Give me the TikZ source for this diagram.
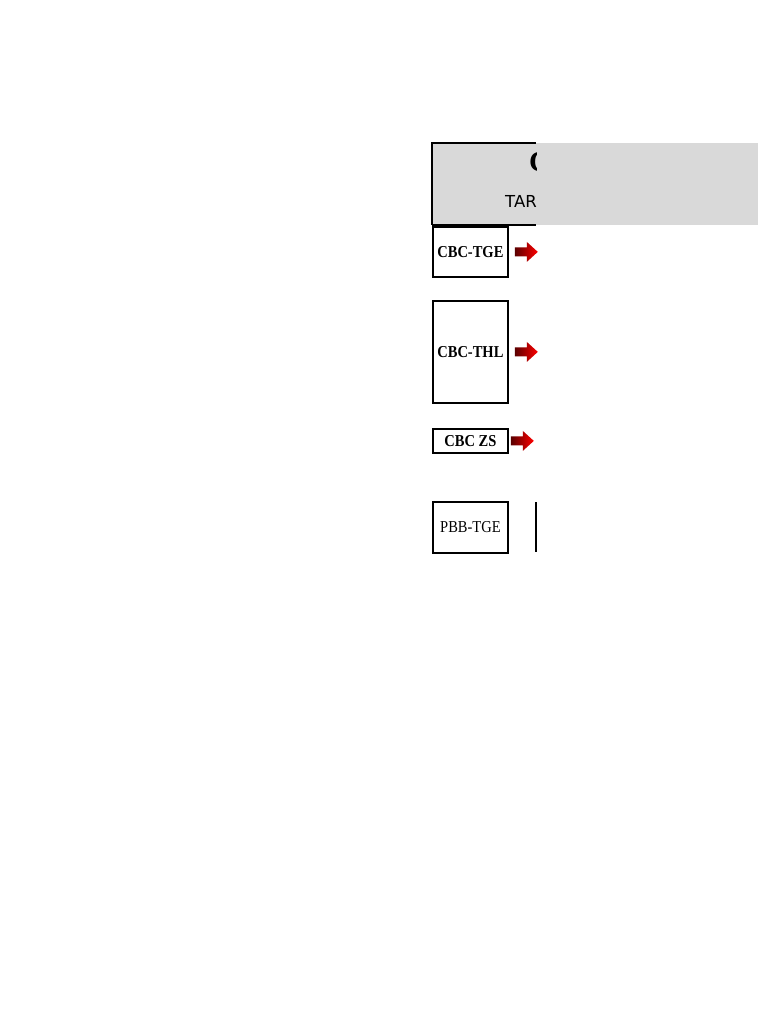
\documentclass[tikz,border=0pt]{standalone}
\usepackage{fontspec}
\setmainfont{Liberation Serif}
\newfontfamily\hdrsans{DejaVu Sans}
\begin{document}
\begin{tikzpicture}[x=1pt,y=-1pt,
  lbl/.style={draw=black,line width=1.8pt,minimum width=75pt,inner sep=0pt,anchor=north west,font=\bfseries\fontsize{14.5}{16}\selectfont},
  redarrow/.style={left color=red!35!black,right color=red,draw=none}]
\useasboundingbox (0,0) rectangle (768,1024);
% grey header band
\fill[gray!30] (432,143) rectangle (758,225);
\draw[line width=1.8pt] (432,225) -- (432,143) -- (536,143);
\draw[line width=1.8pt] (432,225) -- (536,225);
\begin{scope}
\clip (420,140) rectangle (536,230);
\node[font=\bfseries\fontsize{29}{32}\selectfont,anchor=west,inner sep=0pt] (ttl) at (529,162) {C};
\node[font=\hdrsans\fontsize{16.5}{19}\selectfont,anchor=west,inner sep=0pt] (sub) at (505,201) {TAR\hspace{3pt}GET};
\end{scope}
% boxes
\node[lbl,minimum height=50pt] (tge) at (432,226) {\scalebox{1}[1.15]{CBC-TGE}};
\node[lbl,minimum height=102pt] (thl) at (432,300) {\scalebox{1}[1.15]{CBC-THL}};
\node[lbl,minimum height=24pt] (zs) at (432,428) {\scalebox{1}[1.15]{CBC ZS}};
\node[lbl,minimum height=51pt,font=\fontsize{14.5}{16}\selectfont] (pbb) at (432,501) {\scalebox{1}[1.15]{PBB-TGE}};
% arrows
\foreach \n/\x in {tge/513,thl/513,zs/509}{
  \path[redarrow] ([xshift=\x-507]\n.east) ++(0,-4.5) -- ++(12,0) -- ++(0,-5.5) -- ++(11,10) -- ++(-11,10) -- ++(0,-5.5) -- ++(-12,0) -- cycle;
}
\coordinate (vt) at (536,502);
\coordinate (vb) at (536,552);
\draw[line width=1.8pt] (vt) -- (vb);
\end{tikzpicture}
\end{document}
